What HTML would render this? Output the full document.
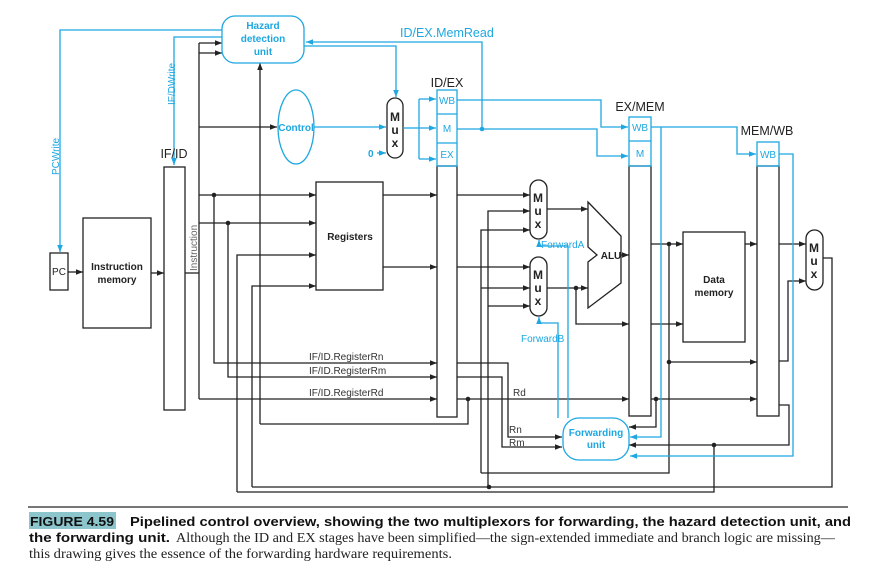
<!DOCTYPE html>
<html><head><meta charset="utf-8"><style>
html,body{margin:0;padding:0;background:#fff;}
svg{display:block;}
text{font-family:"Liberation Sans",sans-serif;}
</style></head><body>
<svg width="882" height="584" viewBox="0 0 882 584" xmlns="http://www.w3.org/2000/svg">
<defs>
<marker id="a" viewBox="0 0 10 10" refX="10" refY="5" markerWidth="7" markerHeight="7" orient="auto" markerUnits="userSpaceOnUse"><path d="M0,1 L10,5 L0,9 z" fill="#222"/></marker>
<marker id="b" viewBox="0 0 10 10" refX="10" refY="5" markerWidth="7" markerHeight="7" orient="auto" markerUnits="userSpaceOnUse"><path d="M0,1 L10,5 L0,9 z" fill="#1ea7e1"/></marker>
</defs>
<g fill="none" stroke="#222" stroke-width="1.3">
<rect x="50" y="253" width="18" height="37"/>
<rect x="83" y="218" width="68" height="110"/>
<rect x="164" y="167" width="21" height="243"/>
<rect x="316" y="182" width="67" height="108"/>
<rect x="437" y="166" width="20" height="251"/>
<rect x="629" y="166" width="22" height="250"/>
<rect x="757" y="166" width="22" height="250"/>
<rect x="683" y="232" width="62" height="110"/>
<rect x="387" y="98" width="16" height="60" rx="8"/>
<rect x="530" y="180" width="17" height="59" rx="8.5"/>
<rect x="530" y="257" width="17" height="59" rx="8.5"/>
<rect x="806" y="230" width="17" height="60" rx="8.5"/>
<path d="M588,202 L621,236 L621,283 L588,308 L588,262 L597,255 L588,247 Z"/>
<path d="M68,272 H83" marker-end="url(#a)"/>
<path d="M151,273 H164" marker-end="url(#a)"/>
<path d="M185,273 H199"/>
<path d="M199,43 V399"/>
<path d="M199,43 H222" marker-end="url(#a)"/>
<path d="M199,53 H222" marker-end="url(#a)"/>
<path d="M199,127 H277" marker-end="url(#a)"/>
<path d="M199,195 H316" marker-end="url(#a)"/>
<path d="M199,223 H316" marker-end="url(#a)"/>
<path d="M237,492 V255 H316" marker-end="url(#a)"/>
<path d="M252,487 V286 H316" marker-end="url(#a)"/>
<path d="M214,195 V363 H437" marker-end="url(#a)"/>
<path d="M228,223 V377 H437" marker-end="url(#a)"/>
<path d="M199,399 H437" marker-end="url(#a)"/>
<path d="M260,424 V63" marker-end="url(#a)"/>
<path d="M260,424 H468 V399"/>
<path d="M383,195 H437" marker-end="url(#a)"/>
<path d="M383,267 H437" marker-end="url(#a)"/>
<path d="M457,195 H530" marker-end="url(#a)"/>
<path d="M457,267 H530" marker-end="url(#a)"/>
<path d="M457,399 H629" marker-end="url(#a)"/>
<path d="M457,363 H508 V437 H562" marker-end="url(#a)"/>
<path d="M457,377 H502 V447 H562" marker-end="url(#a)"/>
<path d="M488,487 V211 H530" marker-end="url(#a)"/>
<path d="M488,306 H530" marker-end="url(#a)"/>
<path d="M481,473 V230 H530" marker-end="url(#a)"/>
<path d="M481,288 H530" marker-end="url(#a)"/>
<path d="M547,209 H588" marker-end="url(#a)"/>
<path d="M547,288 H588" marker-end="url(#a)"/>
<path d="M576,288 V324 H629" marker-end="url(#a)"/>
<path d="M621,255 H629" marker-end="url(#a)"/>
<path d="M651,244 H683" marker-end="url(#a)"/>
<path d="M651,324 H683" marker-end="url(#a)"/>
<path d="M669,244 V473 H481"/>
<path d="M669,362 H757" marker-end="url(#a)"/>
<path d="M651,399 H757" marker-end="url(#a)"/>
<path d="M656,399 V427 H629" marker-end="url(#a)"/>
<path d="M745,244 H757" marker-end="url(#a)"/>
<path d="M779,244 H806" marker-end="url(#a)"/>
<path d="M779,361 H788 V281 H806" marker-end="url(#a)"/>
<path d="M779,405 H789 V445 H629" marker-end="url(#a)"/>
<path d="M714,445 V492 H237"/>
<path d="M823,258 H832 V487 H252"/>
</g>
<g fill="#222">
<circle cx="214" cy="195" r="2.3"/><circle cx="228" cy="223" r="2.3"/>
<circle cx="468" cy="399" r="2.3"/><circle cx="576" cy="288" r="2.3"/>
<circle cx="669" cy="244" r="2.3"/><circle cx="669" cy="362" r="2.3"/>
<circle cx="656" cy="399" r="2.3"/><circle cx="714" cy="445" r="2.3"/>
<circle cx="489" cy="487" r="2.3"/>
</g>
<g fill="none" stroke="#1ea7e1" stroke-width="1.3">
<rect x="222" y="16" width="82" height="47" rx="13" fill="#fff"/>
<ellipse cx="296" cy="127" rx="18" ry="37"/>
<rect x="563" y="418" width="66" height="42" rx="16" fill="#fff"/>
<rect x="437" y="90" width="20" height="76"/><path d="M437,114 H457 M437,143 H457"/>
<rect x="629" y="117" width="22" height="49"/><path d="M629,141 H651"/>
<rect x="757" y="142" width="22" height="24"/>
<path d="M222,30 H60 V252" marker-end="url(#b)"/>
<path d="M222,37 H174 V165" marker-end="url(#b)"/>
<path d="M482,129 V42 H306" marker-end="url(#b)"/>
<path d="M304,46 H396 V97" marker-end="url(#b)"/>
<path d="M314,127 H386" marker-end="url(#b)"/>
<path d="M377,153 H386" marker-end="url(#b)"/>
<path d="M403,128 H419"/>
<path d="M419,99 V159"/>
<path d="M419,99 H436" marker-end="url(#b)"/>
<path d="M419,128 H436" marker-end="url(#b)"/>
<path d="M419,159 H436" marker-end="url(#b)"/>
<path d="M457,100 H601 V127 H628" marker-end="url(#b)"/>
<path d="M457,129 H597 V156 H628" marker-end="url(#b)"/>
<path d="M651,127 H737 V154 H756" marker-end="url(#b)"/>
<path d="M661,127 V437 H630" marker-end="url(#b)"/>
<path d="M779,154 H793 V456 H630" marker-end="url(#b)"/>
<path d="M568,418 V246 H539 V240" marker-end="url(#b)"/>
<path d="M558,418 V323 H539 V317" marker-end="url(#b)"/>
</g>
<circle cx="482" cy="129" r="2.3" fill="#1ea7e1"/>
<g fill="#1ea7e1" font-weight="bold" font-size="10" text-anchor="middle">
<text x="263" y="29">Hazard</text><text x="263" y="42">detection</text><text x="263" y="55">unit</text>
<text x="296" y="131">Control</text>
<text x="596" y="436">Forwarding</text><text x="596" y="448">unit</text>
<text x="447" y="104" font-weight="normal">WB</text>
<text x="447" y="132" font-weight="normal">M</text>
<text x="447" y="158" font-weight="normal">EX</text>
<text x="640" y="131" font-weight="normal">WB</text>
<text x="640" y="157" font-weight="normal">M</text>
<text x="768" y="158" font-weight="normal">WB</text>
</g>
<g fill="#1ea7e1" font-size="10">
<text x="541" y="248">ForwardA</text>
<text x="521" y="342">ForwardB</text>
<text x="368" y="157" font-weight="bold">0</text>
<text x="400" y="37" font-size="12.5">ID/EX.MemRead</text>
<text transform="translate(59,175) rotate(-90)">PCWrite</text>
<text transform="translate(175,105) rotate(-90)">IF/DWrite</text>
</g>
<g fill="#222" font-size="12.5" text-anchor="middle">
<text x="174" y="158">IF/ID</text><text x="447" y="87">ID/EX</text>
<text x="640" y="111">EX/MEM</text><text x="767" y="135">MEM/WB</text>
</g>
<g fill="#222" font-size="10" font-weight="bold" text-anchor="middle">
<text x="59" y="275" font-weight="normal">PC</text>
<text x="117" y="270">Instruction</text><text x="117" y="283">memory</text>
<text x="350" y="240">Registers</text>
<text x="714" y="283">Data</text><text x="714" y="296">memory</text>
<text x="395" y="121" font-size="12">M</text><text x="395" y="134" font-size="12">u</text><text x="395" y="147" font-size="12">x</text>
<text x="538" y="202" font-size="12">M</text><text x="538" y="215" font-size="12">u</text><text x="538" y="228" font-size="12">x</text>
<text x="538" y="279" font-size="12">M</text><text x="538" y="292" font-size="12">u</text><text x="538" y="305" font-size="12">x</text>
<text x="814" y="252" font-size="12">M</text><text x="814" y="265" font-size="12">u</text><text x="814" y="278" font-size="12">x</text>
<text x="611" y="259" font-size="10">ALU</text>
</g>
<g fill="#333" font-size="10">
<text x="309" y="360">IF/ID.RegisterRn</text>
<text x="309" y="374">IF/ID.RegisterRm</text>
<text x="309" y="396">IF/ID.RegisterRd</text>
<text x="513" y="396">Rd</text>
<text x="509" y="433">Rn</text>
<text x="509" y="446">Rm</text>
<text transform="translate(197,271) rotate(-90)" fill="#666">Instruction</text>
</g>
<line x1="28" y1="507" x2="848" y2="507" stroke="#777" stroke-width="2"/>
<rect x="29" y="512" width="87" height="17" fill="#8cc6cc"/>
<text x="30" y="526" font-size="13" font-weight="bold" fill="#111" textLength="84" lengthAdjust="spacingAndGlyphs">FIGURE 4.59</text>
<text x="130" y="526" font-size="13" font-weight="bold" fill="#111" textLength="721" lengthAdjust="spacingAndGlyphs">Pipelined control overview, showing the two multiplexors for forwarding, the hazard detection unit, and</text>
<text x="29" y="542" font-size="13" font-weight="bold" fill="#111" textLength="141" lengthAdjust="spacingAndGlyphs">the forwarding unit.</text>
<text x="176" y="542" font-size="13.5" fill="#222" style="font-family:'Liberation Serif',serif" textLength="659" lengthAdjust="spacingAndGlyphs">Although the ID and EX stages have been simplified—the sign-extended immediate and branch logic are missing—</text>
<text x="29" y="558" font-size="13.5" fill="#222" style="font-family:'Liberation Serif',serif" textLength="423" lengthAdjust="spacingAndGlyphs">this drawing gives the essence of the forwarding hardware requirements.</text>
</svg>
</body></html>
